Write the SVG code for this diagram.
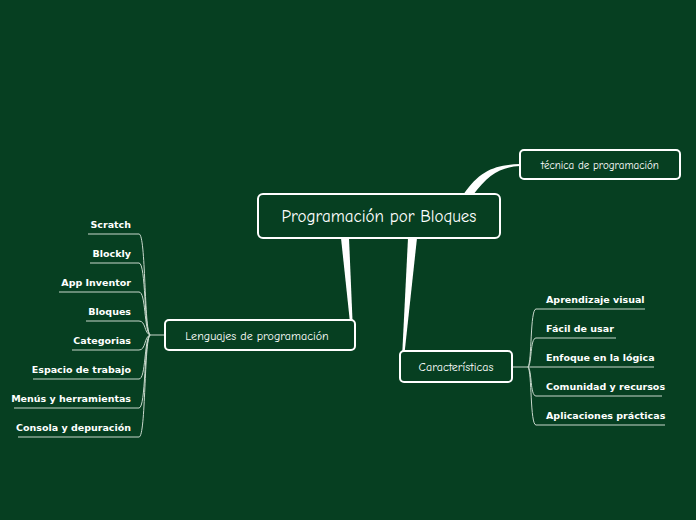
<svg xmlns="http://www.w3.org/2000/svg" width="696" height="520" viewBox="0 0 696 520">
<style>
.box{fill:#063f21;stroke:#fff;stroke-width:2}
.t{font-family:"Comic Neue","DejaVu Sans",sans-serif;fill:#fff}
.leaf{font-family:"DejaVu Sans",sans-serif;font-weight:bold;font-size:9.5px;fill:#fff}
.ln{fill:none;stroke:#c8d8cc;stroke-width:1}
.thick{fill:#fff;stroke:none}
</style>
<rect width="696" height="520" fill="#063f21"/>
<g id="connectors">
<path class="thick" d="M463,195 C480,170 495,165 520,164 L520,166 C500,167 488,175 473,195 Z"/>
<path class="thick" d="M341,238 L349,238 L353,332 Q352,334 351,332 Z"/>
<path class="thick" d="M408,238 L417,238 L404,358 Q403,360 402,358 Z"/>
<g class="ln">
<path d="M150,335 L165,335"/>
<path d="M88,234 L139,234 C146,234 144,330 150,335"/>
<path d="M90,263 L139,263 C146,263 144,330 150,335"/>
<path d="M59,292 L139,292 C146,292 144,330 150,335"/>
<path d="M86,321 L139,321 C146,321 144,333 150,335"/>
<path d="M72,350 L139,350 C146,350 144,337 150,335"/>
<path d="M33,379 L139,379 C146,379 144,340 150,335"/>
<path d="M14,408 L139,408 C146,408 144,340 150,335"/>
<path d="M18,437 L139,437 C146,437 144,340 150,335"/>
<path d="M512,367 L528,367"/>
<path d="M645,309 L536,309 C530,309 532,362 528,367"/>
<path d="M616,338 L536,338 C530,338 532,364 528,367"/>
<path d="M654,367 L528,367"/>
<path d="M662,396 L536,396 C530,396 532,370 528,367"/>
<path d="M665,425 L536,425 C530,425 532,372 528,367"/>
</g>
</g>
<g id="central"><rect class="box" x="258" y="194" width="242" height="44" rx="5"/><text class="t" x="379" y="222" font-size="17" text-anchor="middle">Programación por Bloques</text></g>
<g id="tecnica"><rect class="box" x="520" y="150" width="160" height="29" rx="4"/><text class="t" x="600" y="169" font-size="11" text-anchor="middle">técnica de programación</text></g>
<g id="lenguajes"><rect class="box" x="165" y="320" width="190" height="30" rx="4"/><text class="t" x="257" y="340" font-size="12" text-anchor="middle">Lenguajes de programación</text></g>
<g id="caracteristicas"><rect class="box" x="400" y="351" width="112" height="31" rx="4"/><text class="t" x="456" y="371" font-size="12" text-anchor="middle">Características</text></g>
<g id="left-leaves" class="leaf" text-anchor="end">
<text x="131" y="228">Scratch</text>
<text x="131" y="257">Blockly</text>
<text x="131" y="286">App Inventor</text>
<text x="131" y="315">Bloques</text>
<text x="131" y="344">Categorias</text>
<text x="131" y="373">Espacio de trabajo</text>
<text x="131" y="402">Menús y herramientas</text>
<text x="131" y="431">Consola y depuración</text>
</g>
<g id="right-leaves" class="leaf">
<text x="546" y="303">Aprendizaje visual</text>
<text x="546" y="332">Fácil de usar</text>
<text x="546" y="361">Enfoque en la lógica</text>
<text x="546" y="390">Comunidad y recursos</text>
<text x="546" y="419">Aplicaciones prácticas</text>
</g>
</svg>
